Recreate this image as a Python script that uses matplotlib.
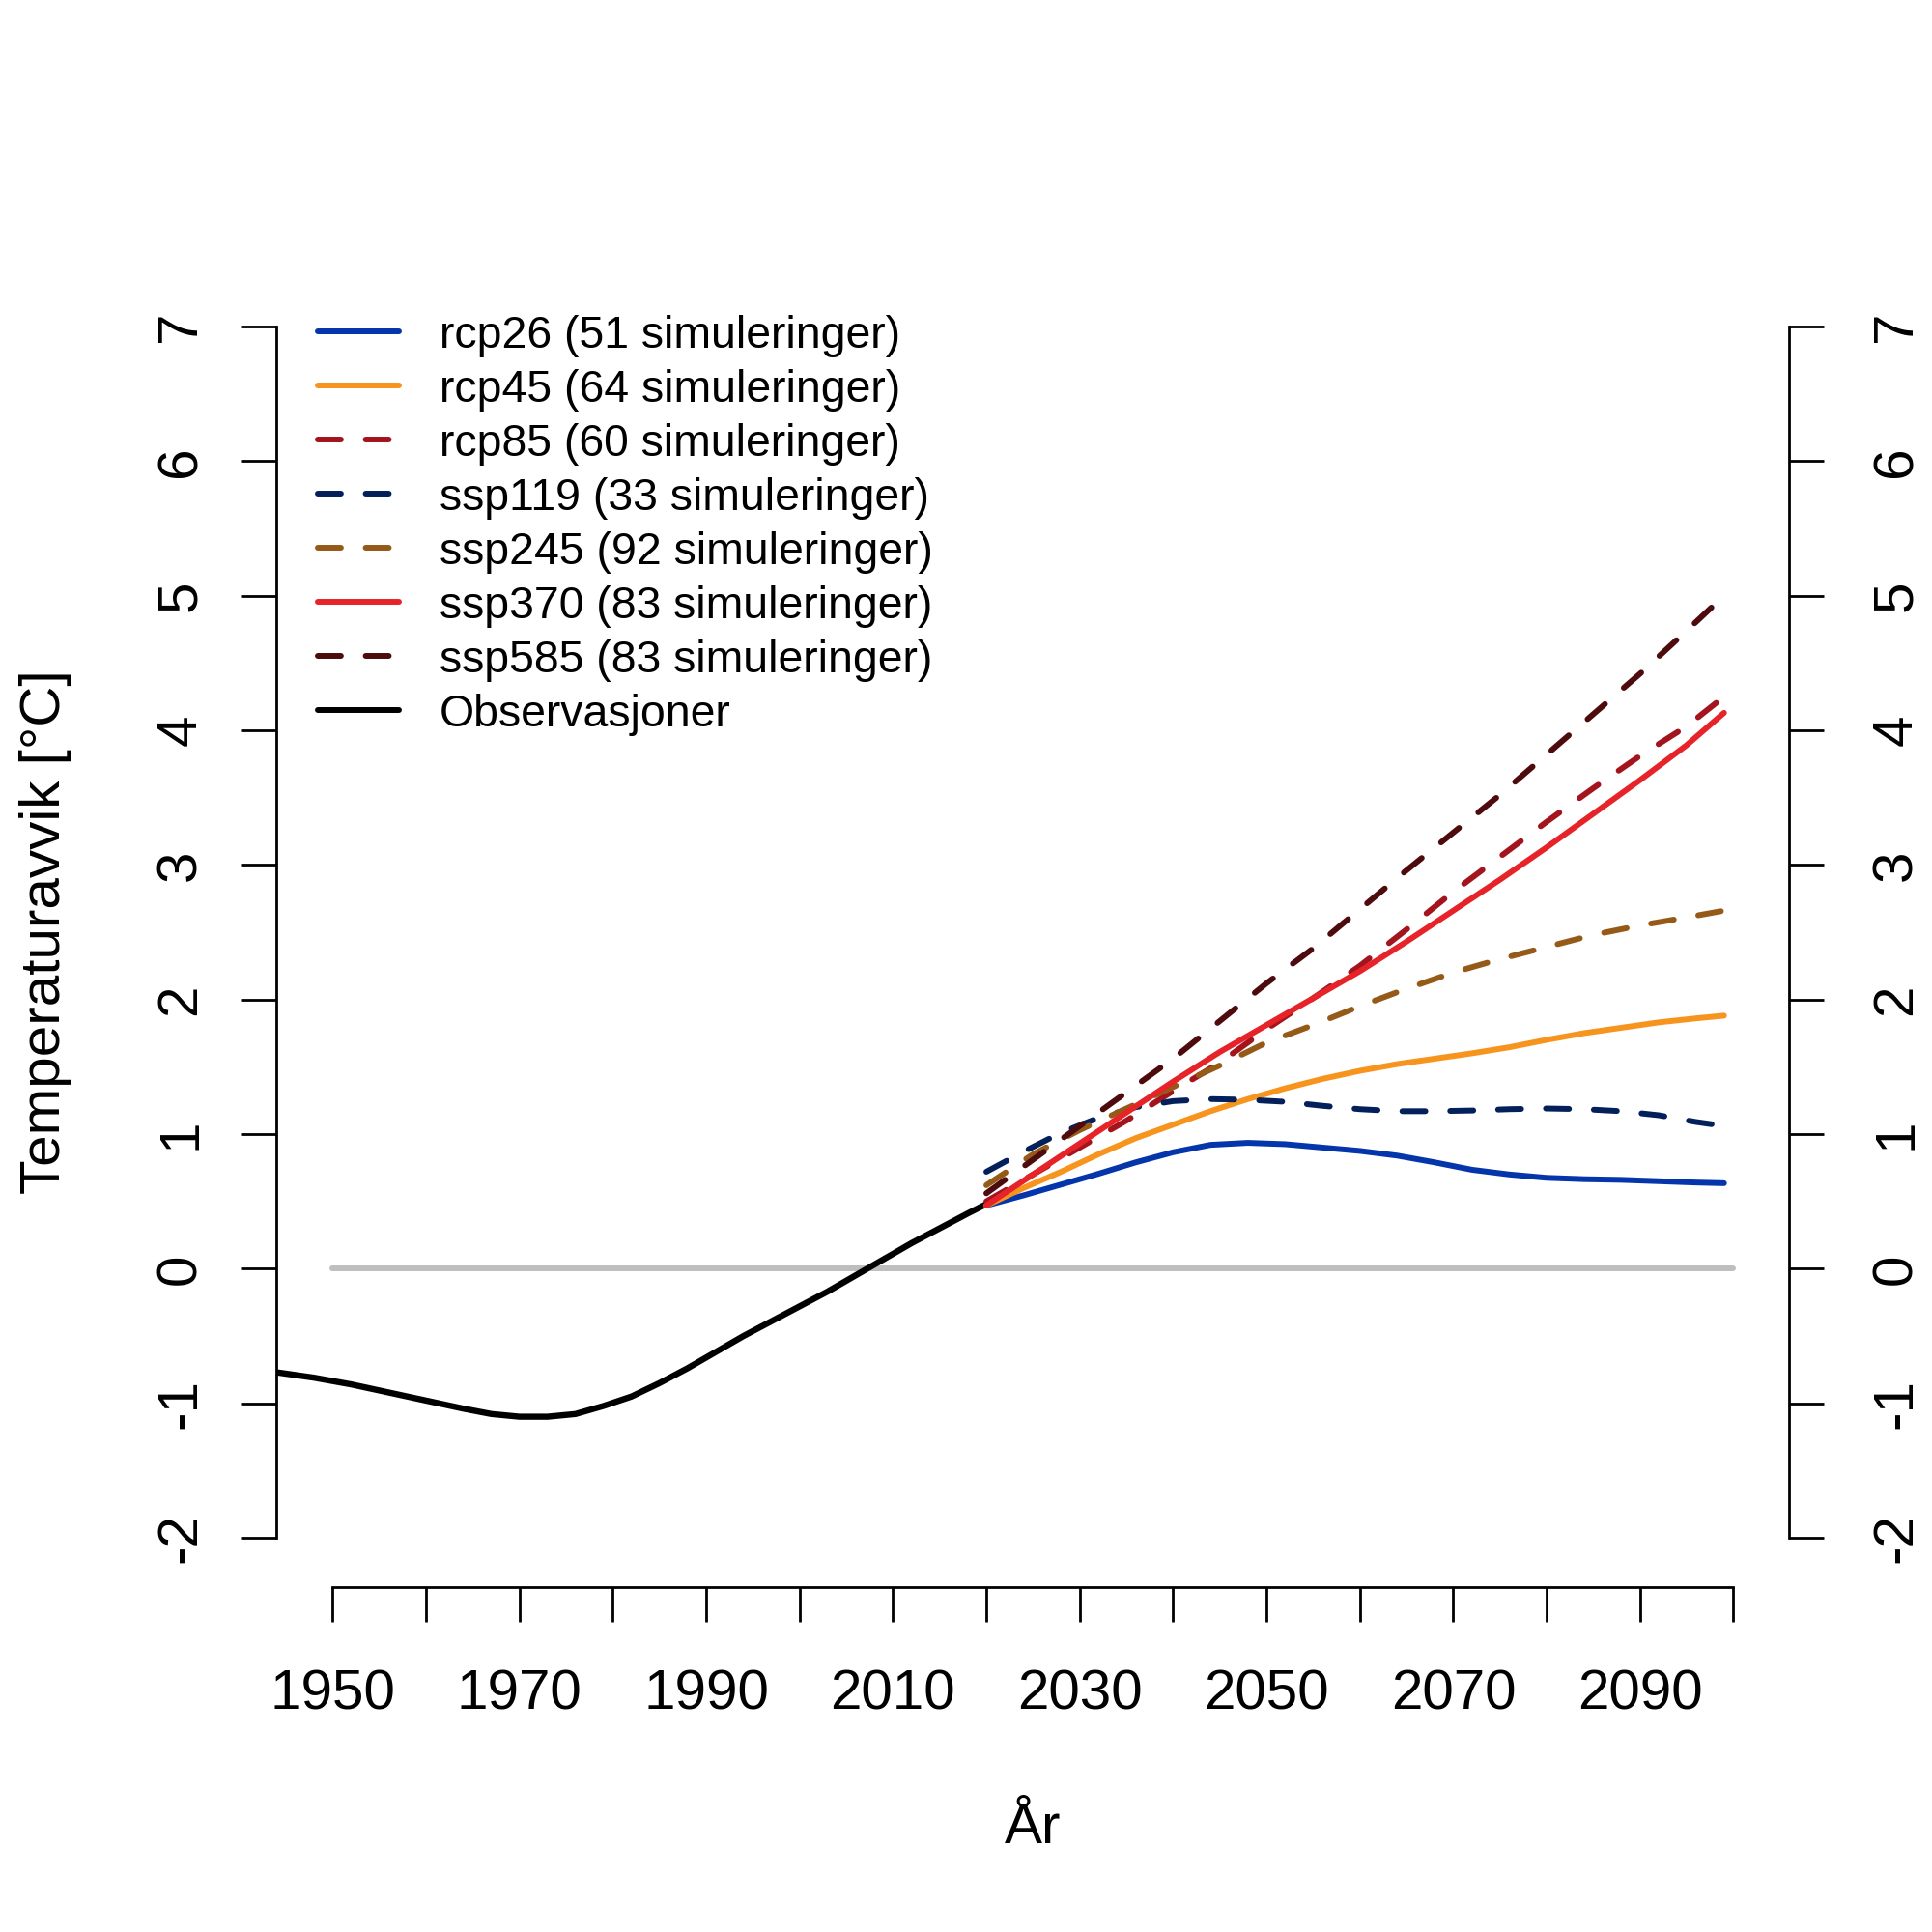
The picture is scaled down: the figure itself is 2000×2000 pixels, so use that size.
import numpy as np
import matplotlib.pyplot as plt
from matplotlib.lines import Line2D

plt.rcParams['font.family'] = ['Liberation Sans', 'DejaVu Sans']

# observasjoner (glattet)
obs_years = [1944, 1948, 1952, 1956, 1960, 1964, 1967, 1970, 1973, 1976, 1979, 1982,
             1985, 1988, 1991, 1994, 1997, 2000, 2003, 2006, 2009, 2012, 2015, 2018, 2020]
obs_vals = [-0.77, -0.81, -0.86, -0.92, -0.98, -1.04, -1.08, -1.10, -1.10, -1.08, -1.02, -0.95,
            -0.85, -0.74, -0.62, -0.50, -0.39, -0.28, -0.17, -0.05, 0.07, 0.19, 0.30, 0.41, 0.48]

# scenarier
years_a = [2020, 2024, 2028, 2032, 2036, 2040, 2044, 2048, 2052, 2056, 2060,
           2064, 2068, 2072, 2076, 2080, 2084, 2088, 2092, 2096, 2099]
years_b = [2020, 2025, 2030, 2035, 2040, 2045, 2050, 2055, 2060, 2065,
           2070, 2075, 2080, 2085, 2090, 2095, 2099]

rcp26 = [0.47, 0.545, 0.625, 0.705, 0.79, 0.865, 0.92, 0.935, 0.925, 0.90, 0.875,
         0.84, 0.79, 0.735, 0.70, 0.675, 0.665, 0.66, 0.65, 0.64, 0.635]
rcp45 = [0.47, 0.60, 0.72, 0.85, 0.97, 1.07, 1.17, 1.26, 1.34, 1.41, 1.47,
         1.52, 1.56, 1.60, 1.645, 1.70, 1.75, 1.79, 1.83, 1.86, 1.88]
ssp119 = [0.72, 0.87, 1.01, 1.12, 1.20, 1.245, 1.26, 1.255, 1.24, 1.21, 1.185,
          1.17, 1.17, 1.175, 1.185, 1.19, 1.185, 1.17, 1.14, 1.09, 1.06]
rcp85 = [0.50, 0.70, 0.90, 1.10, 1.32, 1.53, 1.78, 2.01, 2.25, 2.52,
         2.80, 3.06, 3.32, 3.57, 3.81, 4.03, 4.25]
ssp245 = [0.62, 0.85, 1.03, 1.19, 1.35, 1.51, 1.68, 1.81, 1.95, 2.08,
          2.20, 2.30, 2.39, 2.48, 2.55, 2.61, 2.66]
ssp370 = [0.47, 0.70, 0.93, 1.16, 1.39, 1.61, 1.81, 2.01, 2.21, 2.43,
          2.66, 2.89, 3.13, 3.38, 3.63, 3.89, 4.13]
ssp585 = [0.56, 0.81, 1.06, 1.31, 1.56, 1.84, 2.12, 2.38, 2.67, 2.96,
          3.24, 3.52, 3.82, 4.12, 4.42, 4.74, 5.00]

names = ['rcp26', 'rcp45', 'rcp85', 'ssp119', 'ssp245', 'ssp370', 'ssp585']
n_sim = [51, 64, 60, 33, 92, 83, 83]
series = [rcp26, rcp45, rcp85, ssp119, ssp245, ssp370, ssp585]
series_years = [years_a, years_a, years_b, years_a, years_b, years_b, years_b]
colors = ['#0435AA', '#F7941E', '#A3141D', '#03205B', '#955A17', '#E7232A', '#4D0B0D']
dashed = [False, False, True, True, True, False, True]

x_ticks = np.arange(1950, 2101, 10)
x_labels = [str(y) if (y - 1950) % 20 == 0 else '' for y in x_ticks]
y_ticks = np.arange(-2, 8, 1)

LW = 4.3
DASH = (0, (4, 4.3))

fig = plt.figure(figsize=(20, 20), dpi=100)
ax = fig.add_axes([286.4 / 2000, 408 / 2000, 1566 / 2000, 1254 / 2000])
ax.set_xlim(1944, 2106)
ax.set_ylim(-2, 7)

ax.hlines(0, x_ticks[0], x_ticks[-1], color='#BEBEBE', lw=LW, capstyle='round')
ax.plot(obs_years, obs_vals, color='black', lw=LW + 0.3, solid_capstyle='round')

order = [0, 1, 2, 3, 4, 6, 5]
for i in order:
    kw = dict(color=colors[i], lw=LW, solid_capstyle='round', dash_capstyle='round')
    if dashed[i]:
        kw['linestyle'] = DASH
    ax.plot(series_years[i], series[i], **kw)

# akser
for s in ['top', 'right']:
    ax.spines[s].set_visible(False)
ax.spines['left'].set_bounds(-2, 7)
ax.spines['bottom'].set_bounds(1950, 2100)
ax.spines['bottom'].set_position(('outward', 36.7))
for s in ['left', 'bottom']:
    ax.spines[s].set_linewidth(2)

ax.set_xticks(x_ticks)
ax.set_xticklabels(x_labels)
ax.set_yticks(y_ticks)
ax.set_yticklabels([str(v) for v in y_ticks])
ax.tick_params(axis='both', length=26, width=2, labelsize=42)
ax.tick_params(axis='x', pad=35)
ax.tick_params(axis='y', pad=26, labelrotation=90)
for lab in ax.get_yticklabels():
    lab.set_va('center')

ax2 = ax.twinx()
ax2.set_ylim(-2, 7)
for s in ['top', 'left', 'bottom']:
    ax2.spines[s].set_visible(False)
ax2.spines['right'].set_bounds(-2, 7)
ax2.spines['right'].set_linewidth(2)
ax2.set_yticks(y_ticks)
ax2.set_yticklabels([str(v) for v in y_ticks])
ax2.tick_params(axis='y', length=26, width=2, labelsize=42, pad=34.5, labelrotation=90)
for lab in ax2.get_yticklabels():
    lab.set_va('center')

ax.set_xlabel('År', fontsize=42)
ax.xaxis.set_label_coords(0.5, (1592 - 1893) / 1254)
ax.xaxis.label.set_va('center')
ax.set_ylabel('Temperaturavvik [°C]', fontsize=42)
ax.yaxis.set_label_coords((47.5 - 286.4) / 1566, 0.5)
ax.yaxis.label.set_va('center')

# forklaring
leg_labels = ['%s (%d simuleringer)' % (n, k) for n, k in zip(names, n_sim)] + ['Observasjoner']
leg_colors = colors + ['black']
leg_dashed = dashed + [False]
for i, (lab, c, d) in enumerate(zip(leg_labels, leg_colors, leg_dashed)):
    yf = 1 - (343 + 56 * i) / 2000
    ln = Line2D([329 / 2000, 413 / 2000], [yf, yf], transform=fig.transFigure,
                color=c, lw=LW, solid_capstyle='round', dash_capstyle='round',
                linestyle=DASH if d else '-')
    fig.add_artist(ln)
    fig.text(455 / 2000, yf - 5 / 2000, lab, fontsize=33.4, va='center', ha='left')

fig.savefig('out.png', dpi=100, facecolor='white')
